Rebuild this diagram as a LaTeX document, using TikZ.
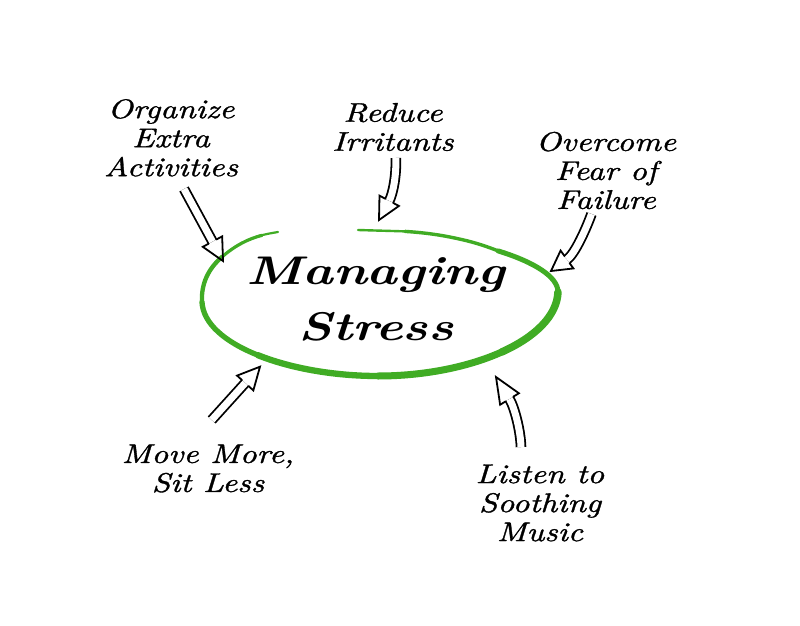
\documentclass[tikz,border=0pt]{standalone}
\usepackage{fontspec}
\usetikzlibrary{calc}
\definecolor{brush}{RGB}{64,172,36}
\newfontfamily\handfont{lmroman10-italic}[Extension=.otf, FakeStretch=1.22, FakeBold=1.2]
\newfontfamily\titlefont{lmroman10-bolditalic}[Extension=.otf, FakeStretch=1.3]
\newcommand{\hollowhead}[2]{%
  \draw[headline] ($(#1)!4.4pt!90:(#2)$) -- ($(#1)!11pt!90:(#2)$) -- (#2)
    -- ($(#1)!11pt!-90:(#2)$) -- ($(#1)!4.4pt!-90:(#2)$);}
\tikzset{
  lbl/.style={align=center, inner sep=0pt,
    font=\handfont\fontsize{27}{29}\selectfont},
  ttl/.style={align=center, inner sep=0pt,
    font=\titlefont\fontsize{40}{56}\selectfont},
  shaft/.style={line width=1.8pt, double=white, double distance=7pt, line cap=butt},
  headline/.style={line width=1.8pt, line join=miter, line cap=round},
  brushline/.style={draw=brush, line cap=round, line join=round},
}
\begin{document}
\begin{tikzpicture}[x=1pt, y=-1pt]
\useasboundingbox (0,0) rectangle (800,626);
\fill[white] (0,0) rectangle (800,626);

% green brush ellipse, drawn in pieces of growing / shrinking width
\draw[brushline, line width=2.4pt] (358,230) .. controls (384,230.8) and (398,231.1) .. (411,231.6);
\draw[brushline, line width=3.4pt] (405,231.4) .. controls (430,233) and (446,236) .. (461.5,239.5)
  .. controls (475,242.5) and (487,246.5) .. (498.1,250.9);
\draw[brushline, line width=5pt] (498.1,250.9) .. controls (534.75,262.25) and (558,277) .. (558,292);
\draw[brushline, line width=7.5pt] (558,292) .. controls (557,316) and (535,337) .. (501.75,352);
\draw[brushline, line width=7pt] (501.75,352) .. controls (468.5,367) and (424,376) .. (378,376);
\draw[brushline, line width=6.3pt] (378,376) .. controls (334,376) and (290.5,368.25) .. (257.75,355.1);
\draw[brushline, line width=5.3pt] (257.75,355.1) .. controls (225,342) and (203,323.5) .. (202,302);
\draw[brushline, line width=4.3pt] (202,302) .. controls (201,283.5) and (208.5,268.5) .. (222,256.9);
\draw[brushline, line width=3.2pt] (222,256.9) .. controls (235.5,245.25) and (248,239) .. (262,235.3);
\draw[brushline, line width=2.2pt] (258,236.2) .. controls (266,234) and (272,233) .. (278,232);

% texts
\node[ttl] (title) at (376,299) {Managing\\Stress};
\node[lbl] (organize) at (171,137.8) {Organize\\Extra\\Activities};
\node[lbl] (reduce) at (393,127) {Reduce\\Irritants};
\node[lbl] (overcome) at (606,170.5) {Overcome\\Fear of\\Failure};
\node[lbl] (move) at (208,468.5) {Move More,\\Sit Less};
\node[lbl] (listen) at (540,503) {Listen to\\Soothing\\Music};

% arrow end points
\coordinate (a1s) at (184,189);   \coordinate (a1b) at (212.5,241.6); \coordinate (a1t) at (223,261);
\coordinate (a2s) at (395.8,158); \coordinate (a2b) at (389.2,200.8); \coordinate (a2t) at (379,220);
\coordinate (a3s) at (591.5,214); \coordinate (a3b) at (567,259.5);   \coordinate (a3t) at (551,271);
\coordinate (a4s) at (211.7,420); \coordinate (a4b) at (245.2,383);   \coordinate (a4t) at (260,366.7);
\coordinate (a5s) at (521,447);   \coordinate (a5b) at (509.5,399);   \coordinate (a5t) at (496,377);

% hollow arrows
\draw[shaft] (a1s) -- (a1b);
\hollowhead{a1b}{a1t}
\draw[shaft] (a2s) .. controls (396.5,175) and (393,193.8) .. (a2b);
\hollowhead{a2b}{a2t}
\draw[shaft] (a3s) .. controls (586.4,228) and (575.1,253.7) .. (a3b);
\hollowhead{a3b}{a3t}
\draw[shaft] (a4s) -- (a4b);
\hollowhead{a4b}{a4t}
\draw[shaft] (a5s) .. controls (520.5,430) and (514.2,406.7) .. (a5b);
\hollowhead{a5b}{a5t}
\end{tikzpicture}
\end{document}
